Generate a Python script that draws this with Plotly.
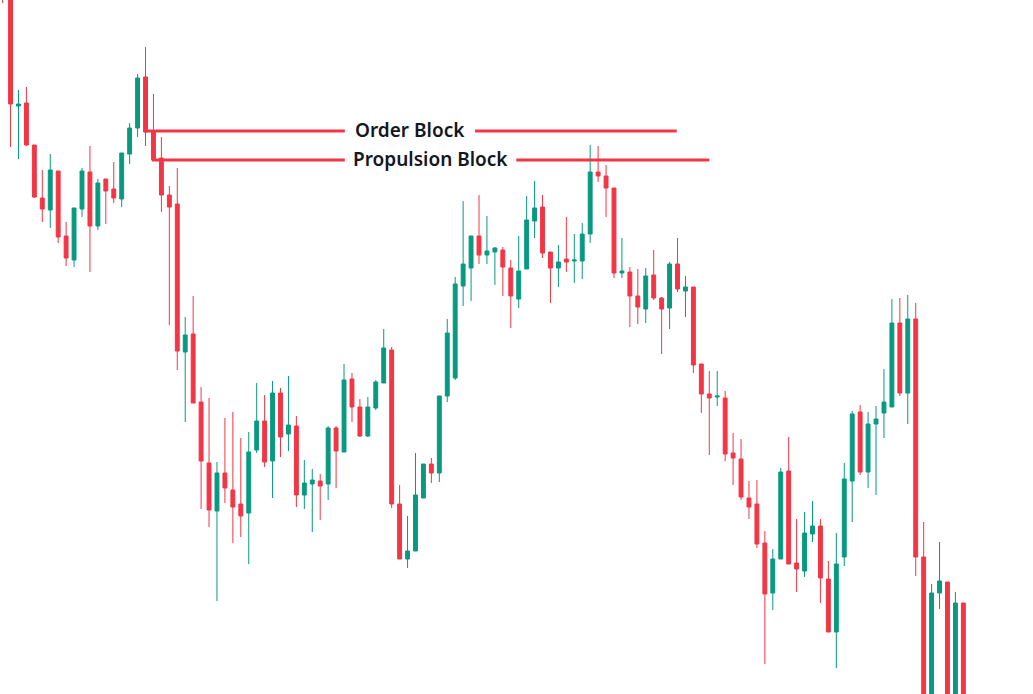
import plotly.graph_objects as go

# Bar index (one per candle, left to right)
bars = list(range(122))

open_ = [734, 714, 588, 591, 549, 496, 484, 523, 458, 434,
         485, 522, 468, 515, 505, 495, 540, 566, 617, 562,
         536, 499, 490, 342, 360, 292, 231, 183, 221, 204,
         190, 181, 244, 273, 233, 301, 260, 268, 199, 210,
         213, 210, 266, 242, 315, 287, 258, 286, 311, 344,
         190, 135, 143, 196, 230, 221, 298, 316, 408, 426,
         458, 439, 442, 444, 426, 395, 425, 473, 487, 442,
         426, 435, 433, 433, 460, 522, 518, 506, 421, 422,
         398, 385, 419, 396, 386, 430, 403, 407, 330, 300,
         297, 296, 241, 235, 196, 190, 151, 101, 135, 223,
         131, 123, 160, 168, 115, 62, 137, 213, 282, 222,
         270, 281, 287, 371, 301, 375, 137, -16, 101, 112,
         -16, 91]
high = [744, 719, 604, 607, 549, 524, 540, 523, 472, 486,
        526, 548, 515, 515, 532, 541, 571, 620, 647, 600,
        557, 508, 526, 377, 398, 307, 296, 232, 276, 282,
        256, 262, 311, 299, 313, 306, 318, 278, 234, 225,
        220, 268, 268, 330, 321, 295, 297, 314, 365, 347,
        209, 178, 241, 230, 236, 298, 375, 417, 493, 458,
        499, 478, 447, 447, 434, 458, 498, 513, 499, 442,
        449, 477, 460, 471, 549, 548, 529, 506, 456, 427,
        425, 426, 444, 397, 432, 456, 418, 407, 330, 323,
        323, 303, 261, 255, 213, 214, 163, 145, 226, 257,
        175, 182, 193, 175, 133, 161, 231, 283, 289, 282,
        288, 325, 395, 396, 399, 391, 172, 110, 152, 112,
        102, 91]
low = [691, 547, 535, 548, 496, 472, 466, 451, 428, 427,
       477, 422, 464, 470, 491, 487, 530, 557, 548, 533,
       482, 369, 324, 272, 291, 185, 167, 93, 191, 151,
       157, 130, 241, 227, 196, 237, 243, 187, 185, 162,
       174, 194, 206, 242, 272, 257, 257, 284, 311, 186,
       135, 126, 143, 196, 211, 212, 292, 314, 388, 393,
       430, 430, 409, 398, 366, 386, 425, 456, 436, 391,
       407, 422, 411, 415, 451, 512, 477, 416, 416, 367,
       370, 371, 394, 340, 365, 402, 377, 321, 281, 239,
       288, 233, 209, 194, 175, 146, 30, 84, 135, 130,
       102, 117, 152, 91, 62, 26, 128, 172, 219, 206,
       199, 256, 287, 298, 270, 118, -26, -26, 85, -26,
       -26, -26]
close = [704, 590, 590, 549, 497, 485, 524, 457, 436, 486,
         523, 468, 511, 503, 496, 541, 566, 616, 562, 534,
         499, 487, 343, 359, 291, 233, 184, 221, 206, 187,
         178, 242, 273, 232, 301, 257, 269, 199, 211, 214,
         208, 266, 243, 314, 287, 258, 287, 312, 346, 190,
         135, 143, 199, 230, 221, 298, 361, 410, 430, 458,
         439, 443, 446, 427, 398, 423, 474, 486, 441, 426,
         432, 432, 434, 460, 522, 518, 506, 421, 423, 398,
         387, 418, 396, 385, 430, 405, 407, 329, 300, 296,
         298, 240, 236, 197, 187, 150, 100, 135, 222, 130,
         125, 161, 168, 116, 62, 130, 215, 280, 222, 270,
         275, 292, 371, 301, 375, 137, -16, 101, 113, -16,
         91, -16]

# Marked levels: label, price, line start, gap start, gap end, line end (bar index)
level_names = ["Order Block", "Propulsion Block"]
level_prices = [563, 534]
level_start = [17.8, 18.8]
level_gap_start = [43.1, 43.1]
level_gap_end = [59.5, 64.7]
level_end = [84.9, 89.0]

RED = "#F23645"
GREEN = "#089981"

fig = go.Figure()
fig.add_trace(go.Candlestick(
    x=bars, open=open_, high=high, low=low, close=close,
    increasing=dict(line=dict(color=GREEN, width=1), fillcolor=GREEN),
    decreasing=dict(line=dict(color=RED, width=1), fillcolor=RED),
    whiskerwidth=0,
    showlegend=False,
))

for name, p, s, gs, ge, e in zip(level_names, level_prices, level_start,
                                 level_gap_start, level_gap_end, level_end):
    for x0, x1 in ((s, gs), (ge, e)):
        fig.add_shape(type="line", x0=x0, x1=x1, y0=p, y1=p,
                      xref="x", yref="y", line=dict(color=RED, width=3))
    fig.add_annotation(x=(gs + ge) / 2, y=p, text=name, showarrow=False,
                       xanchor="center", yanchor="middle", yshift=1,
                       font=dict(family="Noto Sans", size=19, weight=600,
                                 color="#131722"))

fig.update_layout(
    width=1033, height=694,
    margin=dict(l=0, r=0, t=0, b=0, pad=0),
    paper_bgcolor="white", plot_bgcolor="white",
    boxgap=0.3,
    xaxis=dict(range=[-0.327, 129.77], visible=False, showgrid=False,
               rangeslider=dict(visible=False), fixedrange=True),
    yaxis=dict(range=[0, 694], visible=False, showgrid=False, fixedrange=True),
    hovermode=False,
)

fig.write_html("out.html", config={"displayModeBar": False})
